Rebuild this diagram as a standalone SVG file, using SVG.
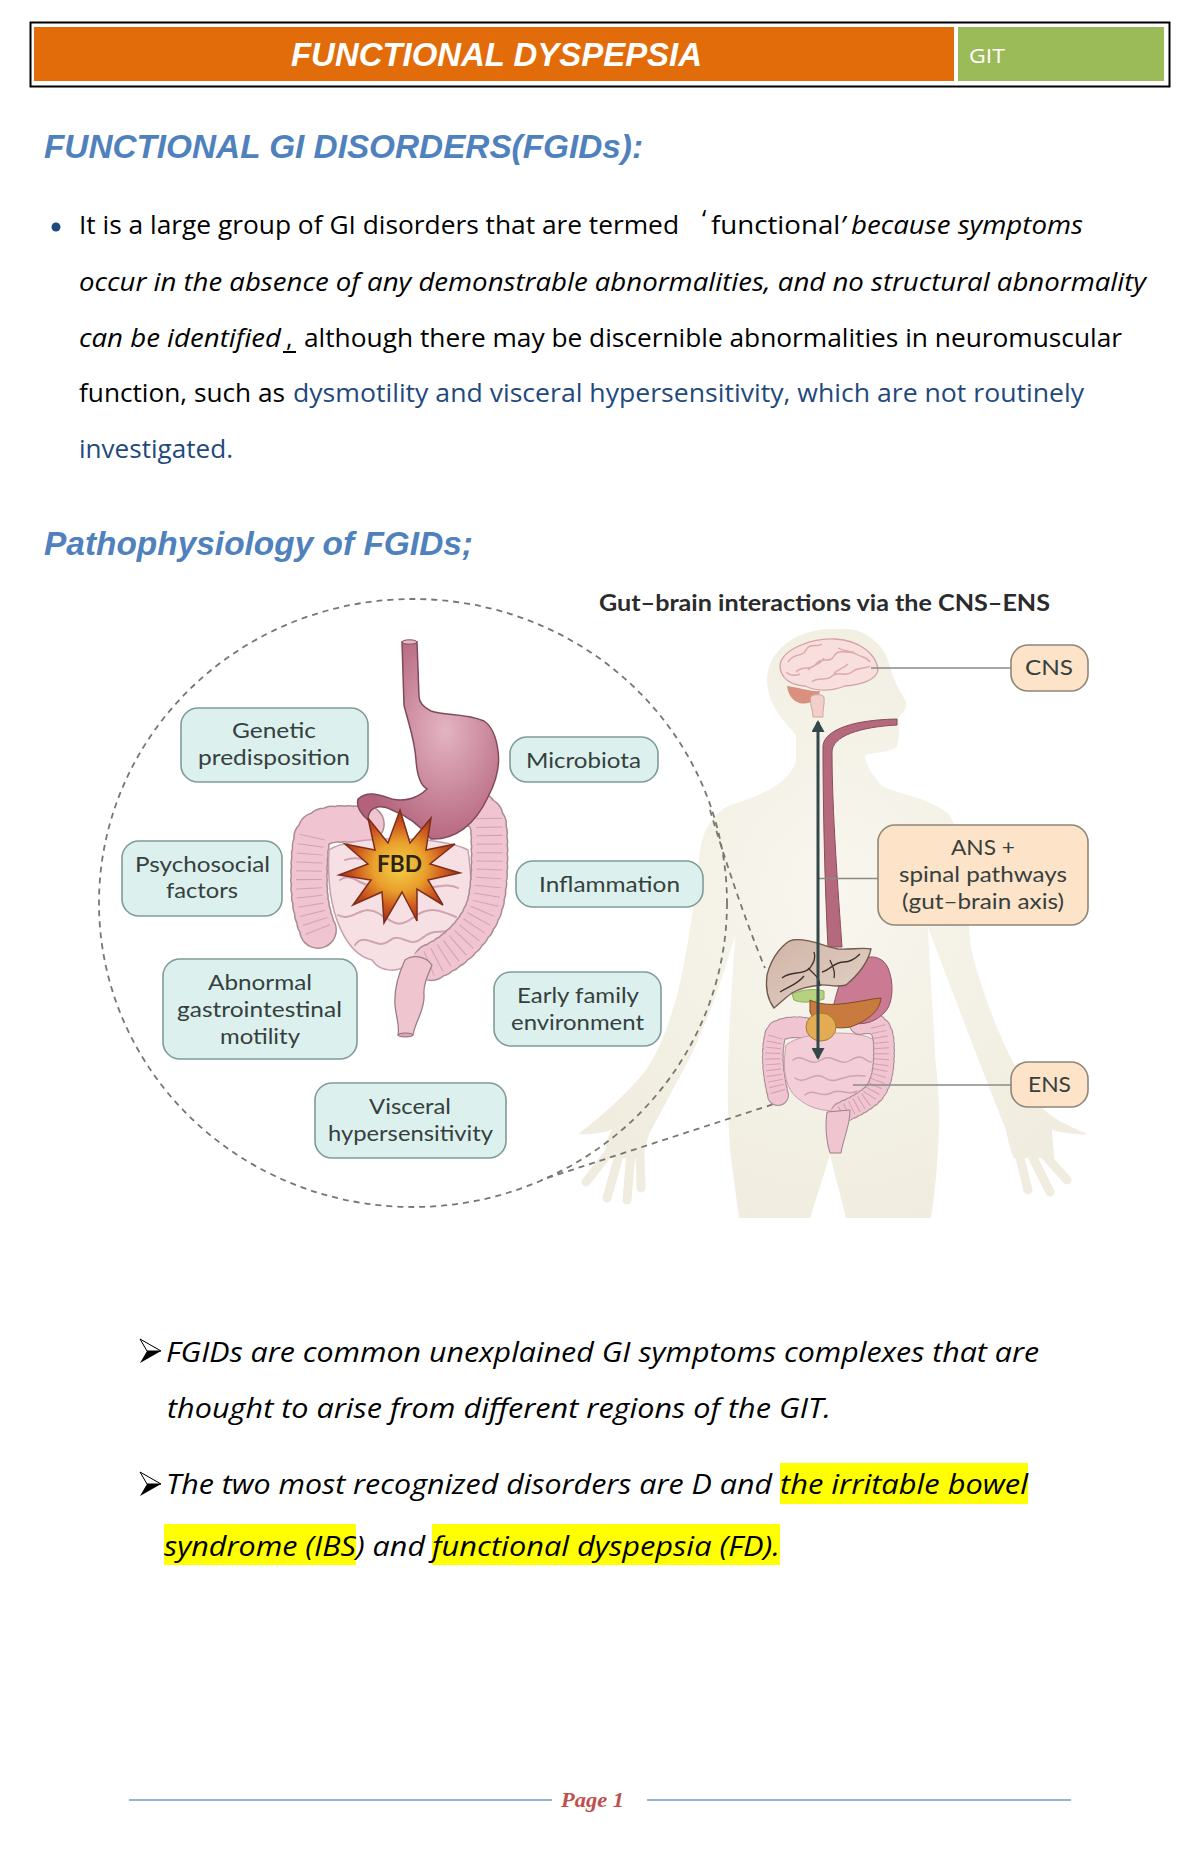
<svg xmlns="http://www.w3.org/2000/svg" width="1200" height="1855" viewBox="0 0 1200 1855">
<defs>
<style>
.h{font-family:"Liberation Sans",Arial,sans-serif;font-weight:700;font-style:italic;font-size:33px;fill:#4f81bd}
.b{font-family:"Open Sans","Noto Sans",sans-serif;font-size:25px;fill:#000}
.big{font-size:27px}
.i{font-style:italic}
.blue{fill:#1f497d}
.lbl{font-family:Lato,"Noto Sans",sans-serif;font-size:22px;fill:#36403e}
.teal{fill:#dcf1ee;stroke:#7f9c99;stroke-width:1.6}
.peach{fill:#fde3c8;stroke:#8f8777;stroke-width:1.6}
.lead{fill:none;stroke:#8b8b85;stroke-width:1.5}
.dash{fill:none;stroke:#77776f;stroke-width:1.8;stroke-dasharray:6 5}
.cl1{fill:none;stroke:#a98c95;stroke-linecap:round;stroke-linejoin:round}
.cl2{fill:none;stroke:#f0c4d0;stroke-linecap:round;stroke-linejoin:round}
.rib{fill:none;stroke:#c58fa0}
.fold{fill:none;stroke:#cfa3b0;stroke-width:2;stroke-linecap:round}
.finger{fill:none;stroke:#f0ecdf;stroke-linecap:round}
.hl{fill:#ffff00}
</style>
<radialGradient id="star" cx="50%" cy="50%" r="52%"><stop offset="0" stop-color="#f3d048"/><stop offset=".42" stop-color="#e9a02c"/><stop offset=".72" stop-color="#cc561e"/><stop offset="1" stop-color="#8f2e18"/></radialGradient>
<radialGradient id="stom" cx="62%" cy="45%" r="60%"><stop offset="0" stop-color="#e3b4c2"/><stop offset="1" stop-color="#b4627c"/></radialGradient>
<radialGradient id="bodyg" cx="50%" cy="45%" r="60%"><stop offset="0" stop-color="#f8f6ee"/><stop offset="1" stop-color="#f0ecdf"/></radialGradient>
<linearGradient id="liver" x1="0" y1="0" x2="1" y2="1"><stop offset="0" stop-color="#cfb4a6"/><stop offset="1" stop-color="#e4d3c8"/></linearGradient>
<marker id="ah" viewBox="0 0 12 13" refX="10" refY="6.500" markerWidth="12" markerHeight="13" orient="auto-start-reverse" markerUnits="userSpaceOnUse"><path d="M0 0L12 6.500L0 13Z" fill="#34474a"/></marker>
</defs>
<rect width="1200" height="1855" fill="#fff"/>

<g id="header">
<rect x="30.500" y="22.500" width="1139" height="64" fill="#fff" stroke="#000" stroke-width="2"/>
<rect x="34" y="27" width="920" height="54" fill="#e36c0a"/>
<rect x="958" y="27" width="206" height="54" fill="#9bbb59"/>
<text x="291" y="66" font-family="Liberation Sans,Arial,sans-serif" font-weight="700" font-style="italic" font-size="33" fill="#fff" textLength="411" lengthAdjust="spacingAndGlyphs">FUNCTIONAL DYSPEPSIA</text>
<text x="969" y="63" font-family="Open Sans,sans-serif" font-size="20" fill="#fff" textLength="36" lengthAdjust="spacingAndGlyphs">GIT</text>
</g>

<g id="intro">
<text class="h" x="44" y="158" textLength="599" lengthAdjust="spacingAndGlyphs">FUNCTIONAL GI DISORDERS(FGIDs):</text>
<circle cx="56" cy="227" r="4.500" fill="#1f497d"/>
<text class="b" x="79" y="234" textLength="600" lengthAdjust="spacingAndGlyphs">It is a large group of GI disorders that are termed</text>
<text class="b" x="702" y="228">‘</text>
<text class="b" x="711" y="234" textLength="134" lengthAdjust="spacingAndGlyphs">functional<tspan class="i">’</tspan></text>
<text class="b i" x="851" y="234" textLength="232" lengthAdjust="spacingAndGlyphs">because symptoms</text>
<text class="b i" x="79" y="291" textLength="1067" lengthAdjust="spacingAndGlyphs">occur in the absence of any demonstrable abnormalities, and no structural abnormality</text>
<text class="b i" x="79" y="347" textLength="202" lengthAdjust="spacingAndGlyphs">can be identified</text>
<text class="b" x="286" y="347">,</text>
<rect x="283" y="351" width="13" height="2" fill="#000"/>
<text class="b" x="304" y="347" textLength="818" lengthAdjust="spacingAndGlyphs">although there may be discernible abnormalities in neuromuscular</text>
<text class="b" x="79" y="402" textLength="206" lengthAdjust="spacingAndGlyphs">function, such as</text>
<text class="b blue" x="293" y="402" textLength="791" lengthAdjust="spacingAndGlyphs">dysmotility and visceral hypersensitivity, which are not routinely</text>
<text class="b blue" x="79" y="458" textLength="154" lengthAdjust="spacingAndGlyphs">investigated.</text>
<text class="h" x="44" y="555" textLength="429" lengthAdjust="spacingAndGlyphs">Pathophysiology of FGIDs;</text>
</g>

<g id="figure">
<path id="body" fill="url(#bodyg)" d="M828 629C795 631 768 650 767 680C767 705 785 722 796 735L796 760C790 785 760 795 728 806C712 815 703 830 700 850C695 900 688 950 678 991C668 1030 655 1060 642 1075C625 1095 600 1118 578 1134C590 1135 600 1133 612 1130C606 1140 604 1150 606 1158L642 1158C645 1150 647 1142 649 1134C660 1115 672 1090 685 1067C705 1030 722 980 735 936C733 980 728 1030 728 1075C727 1105 729 1135 731 1159L739 1218L810 1218L830 1155L846 1218L931 1218C936 1185 939 1150 939 1117C939 1095 937 1075 935 1054C933 1010 930 970 928 928C950 985 980 1065 1006 1130C1008 1140 1010 1150 1014 1158L1054 1158C1054 1148 1052 1138 1052 1130C1064 1133 1076 1135 1087 1134C1068 1125 1048 1118 1036 1100C1010 1065 985 1005 971 949C968 920 968 890 964 865C960 840 955 825 949 814C925 795 895 795 881 785C872 775 866 765 865 755C878 752 890 752 897 747C900 735 899 725 899 717C905 712 908 705 905 700C898 688 893 678 890 667C885 642 862 629 846 629Z"/>
<g id="fingers">
<path class="finger" stroke-width="9" d="M611 1150L586 1182M620 1152L607 1198M631 1152L627 1200M640 1150L641 1188M1018 1150L1028 1190M1030 1152L1050 1192M1042 1152L1067 1180"/>
</g>

<g class="connectors" id="dashed">
<ellipse class="dash" cx="413" cy="903" rx="314" ry="304"/>
<path class="dash" d="M710 810C725 860 745 920 765 968"/>
<path class="dash" d="M783 1101L541 1180"/>
</g>

<text id="fig-title" x="599" y="611" font-family="Lato,Noto Sans,sans-serif" font-weight="700" font-size="22" fill="#2b2b2b" textLength="451" lengthAdjust="spacingAndGlyphs">Gut–brain interactions via the CNS–ENS</text>

<g id="gut-left">
<path class="cl1" stroke-width="38" stroke-dasharray="0 8.500" d="M318 930C312 915 309 900 309 880C309 860 310 845 313 834C325 820 345 825 366 824"/>
<path class="cl2" stroke-width="35" stroke-dasharray="0 8.500" d="M318 930C312 915 309 900 309 880C309 860 310 845 313 834C325 820 345 825 366 824"/>
<path class="cl2" stroke-width="30" d="M318 930C312 915 309 900 309 880C309 860 310 845 313 834C325 820 345 825 366 824"/>
<path class="rib" stroke-width="26" stroke-dasharray="1 7.500" opacity=".65" d="M318 930C312 915 309 900 309 880C309 860 310 845 313 834"/>
<path d="M329 850C350 835 440 835 468 850C475 900 470 945 447 955C438 968 420 966 412 960C400 975 380 972 372 960C350 955 325 920 329 850Z" fill="#f7e0e4" stroke="#c9a0ad" stroke-width="1.500"/>
<path class="fold" d="M340 880c14-10 22 12 36 2s24-8 38 2 30-4 44 4M338 915c14 8 24-12 40-2s20 16 36 4 28-6 42 0M355 945c10-14 22 6 34-4s20 8 32-2 16-6 26-8M345 860c16-6 26 6 38 0"/>
<path class="cl1" stroke-width="38" stroke-dasharray="0 8.500" d="M462 808C478 806 488 815 489 830C490 860 490 885 485 905C475 935 450 955 425 965"/>
<path class="cl2" stroke-width="35" stroke-dasharray="0 8.500" d="M462 808C478 806 488 815 489 830C490 860 490 885 485 905C475 935 450 955 425 965"/>
<path class="cl2" stroke-width="30" d="M462 808C478 806 488 815 489 830C490 860 490 885 485 905C475 935 450 955 425 965"/>
<path class="rib" stroke-width="26" stroke-dasharray="1 7.500" opacity=".65" d="M489 818C490 860 490 885 485 905C475 935 450 955 428 964"/>
<path d="M405 960C398 975 394 990 395 1005C396 1018 400 1025 398 1035L413 1035C415 1022 425 1010 424 995C423 985 428 975 432 965C425 955 412 955 405 960Z" fill="#efc6d0" stroke="#9b7f88" stroke-width="1.300"/>
<ellipse cx="405.500" cy="1035" rx="7.500" ry="2" fill="#d8a9b5" stroke="#8d6a76"/>
<path d="M402 642L404 705C408 722 415 740 416 760C417 775 420 785 427 789C418 798 405 802 392 799C380 795 368 790 358 799C356 807 362 815 368 820C368 808 378 803 392 810C405 815 420 825 431 839C455 840 475 825 488 797C497 780 500 765 498 751C496 735 490 725 484 721C465 713 445 716 431 711C423 707 419 702 419 696L417 642Z" fill="url(#stom)" stroke="#7f4a5a" stroke-width="1.500"/>
<ellipse cx="409.500" cy="642" rx="7.500" ry="2.200" fill="#e3b9c2" stroke="#7f4a5a"/>
<polygon id="burst" points="400,810 410,843 431,818 426,850 455,844 430,864 460,873 428,880 443,905 417,889 417,921 402,892 384,923 382,892 353,905 371,880 339,875 368,864 345,844 375,850 368,818 388,843" fill="url(#star)" stroke="#7d2d1a" stroke-width="1.500"/>
<text x="377" y="872" font-family="Lato,Noto Sans,sans-serif" font-weight="700" font-size="22" fill="#2f2412" textLength="45" lengthAdjust="spacingAndGlyphs">FBD</text>
</g>

<g id="gut-right">
<path d="M823 747C823 733 845 720 897 719L897 725C860 727 832 736 832 752C832 810 838 890 842 947L828 947C825 890 823 810 823 747Z" fill="#b4697c" stroke="#8a4d5c" stroke-width="1"/>
<path class="cl1" stroke-width="22" stroke-dasharray="0 5.500" d="M778 1095C772 1070 771 1050 776 1032C790 1024 805 1028 818 1030"/>
<path class="cl2" stroke-width="20" stroke-dasharray="0 5.500" d="M778 1095C772 1070 771 1050 776 1032C790 1024 805 1028 818 1030"/>
<path class="cl2" stroke-width="17" d="M778 1095C772 1070 771 1050 776 1032C790 1024 805 1028 818 1030"/>
<path class="rib" stroke-width="15" stroke-dasharray="1 4.500" opacity=".7" d="M778 1092C772 1070 771 1050 776 1035"/>
<path d="M786 1045C805 1030 860 1030 874 1040C880 1070 878 1095 860 1104C840 1115 815 1112 800 1100C785 1090 782 1070 786 1045Z" fill="#f3cdd8" stroke="#c9a0ad"/>
<path class="fold" style="stroke-width:1.500" d="M793 1060c10-8 16 8 28 0s18 8 30 0 14 2 20 2M795 1078c10 8 18-8 30 0s18-6 40-2M805 1095c8-8 16 4 26-2s16 4 26-2"/>
<path class="cl1" stroke-width="22" stroke-dasharray="0 5.500" d="M860 1024C880 1020 884 1030 884 1050C884 1075 880 1090 868 1098C855 1108 845 1110 838 1115"/>
<path class="cl2" stroke-width="20" stroke-dasharray="0 5.500" d="M860 1024C880 1020 884 1030 884 1050C884 1075 880 1090 868 1098C855 1108 845 1110 838 1115"/>
<path class="cl2" stroke-width="17" d="M860 1024C880 1020 884 1030 884 1050C884 1075 880 1090 868 1098C855 1108 845 1110 838 1115"/>
<path class="rib" stroke-width="15" stroke-dasharray="1 4.500" opacity=".7" d="M878 1026C884 1050 884 1075 868 1098C855 1108 845 1110 840 1114"/>
<path d="M827 1112C825 1125 826 1140 830 1153L841 1153C843 1140 850 1125 850 1110Z" fill="#efc6d0" stroke="#9b7f88"/>
<path d="M792 994C800 990 815 988 824 991L824 999C812 1003 800 1003 794 1000Z" fill="#b7d27e" stroke="#8fae5c"/>
<path d="M844 975C855 955 880 950 888 968C895 985 892 1005 885 1012C868 1030 845 1025 832 1012C835 1000 838 985 844 975Z" fill="#cb7a93" stroke="#8c4f62"/>
<path d="M767 975C772 955 785 942 792 940C810 938 825 947 838 949C850 950 862 947 871 949C868 962 858 975 846 985C835 988 828 984 821 985C810 986 800 988 792 993C785 998 780 1003 774 1008C768 1000 765 990 767 975Z" fill="url(#liver)" stroke="#715a4d" stroke-width="1.300"/>
<path d="M782 978c10-8 20-2 28-10 4-6 6-10 4-16M780 992c10-6 18-8 24-16M808 968c6 6 12 10 12 18M822 972c8-2 12-10 22-10 6 0 12-4 16-8M830 960c2 6 6 10 4 18" fill="none" stroke="#3e3029" stroke-width="1.300"/>
<path d="M810 1000C830 1010 860 1000 881 998C880 1012 865 1022 850 1027C835 1030 815 1025 810 1012Z" fill="#c97b3f" stroke="#7f4a22"/>
<ellipse cx="821" cy="1027" rx="15" ry="14" fill="#e4ab55" stroke="#a97a2c"/>
<path d="M780 665C782 650 810 638 835 639C860 640 877 655 878 670C877 680 860 685 845 686C830 692 815 691 805 686C790 685 780 678 780 665Z" fill="#f9dede" stroke="#d3a3a5" stroke-width="1.300"/>
<path d="M788 662c6-10 14-4 18-12s12-2 16-6M796 672c8-8 14 0 20-8s14 0 18-8 14-2 20-4M812 682c6-6 14 0 20-6s14 2 20-4 12-2 18-6M786 672c4 4 10 4 14 2M838 648c6 4 12 2 18 6s10 2 14 8M824 658c-4 8-12 6-16 12M848 664c-6 6-10 4-14 10" fill="none" stroke="#dca9ac" stroke-width="1.500"/>
<path d="M787 686C797 687 812 692 820 691C818 702 805 706 797 702C791 699 788 693 787 686Z" fill="#d9907f"/>
<path d="M811 696C816 694 822 694 824 697C825 705 822 712 823 717L813 717C813 710 809 703 811 696Z" fill="#f3cfc9" stroke="#d3a3a5"/>
</g>

<g class="connectors" id="leaders">
<path class="lead" d="M871 668H1011M819 878.500H878M853 1085H1011"/>
<path d="M818 722V1058" fill="none" stroke="#34474a" stroke-width="3" marker-start="url(#ah)" marker-end="url(#ah)"/>
</g>

<g id="genetic"><rect class="teal" x="181" y="708" width="187" height="74" rx="17"/><text class="lbl" x="232" y="738" textLength="84" lengthAdjust="spacingAndGlyphs">Genetic</text><text class="lbl" x="198" y="765" textLength="152" lengthAdjust="spacingAndGlyphs">predisposition</text></g>
<g id="microbiota"><rect class="teal" x="510" y="737" width="148" height="45" rx="17"/><text class="lbl" x="526" y="768" textLength="115" lengthAdjust="spacingAndGlyphs">Microbiota</text></g>
<g id="psychosocial"><rect class="teal" x="122" y="841" width="160" height="75" rx="17"/><text class="lbl" x="135" y="872" textLength="135" lengthAdjust="spacingAndGlyphs">Psychosocial</text><text class="lbl" x="166" y="898" textLength="72" lengthAdjust="spacingAndGlyphs">factors</text></g>
<g id="inflammation"><rect class="teal" x="516" y="861" width="187" height="46" rx="17"/><text class="lbl" x="539" y="892" textLength="141" lengthAdjust="spacingAndGlyphs">Inflammation</text></g>
<g id="abnormal"><rect class="teal" x="163" y="959" width="194" height="100" rx="17"/><text class="lbl" x="208" y="990" textLength="104" lengthAdjust="spacingAndGlyphs">Abnormal</text><text class="lbl" x="177" y="1017" textLength="165" lengthAdjust="spacingAndGlyphs">gastrointestinal</text><text class="lbl" x="220" y="1044" textLength="80" lengthAdjust="spacingAndGlyphs">motility</text></g>
<g id="early"><rect class="teal" x="494" y="972" width="167" height="74" rx="17"/><text class="lbl" x="517" y="1003" textLength="122" lengthAdjust="spacingAndGlyphs">Early family</text><text class="lbl" x="511" y="1030" textLength="133" lengthAdjust="spacingAndGlyphs">environment</text></g>
<g id="visceral"><rect class="teal" x="315" y="1083" width="191" height="75" rx="17"/><text class="lbl" x="369" y="1114" textLength="82" lengthAdjust="spacingAndGlyphs">Visceral</text><text class="lbl" x="328" y="1141" textLength="165" lengthAdjust="spacingAndGlyphs">hypersensitivity</text></g>
<g id="cns"><rect class="peach" x="1011" y="645" width="77" height="46" rx="17"/><text class="lbl" x="1025" y="675" textLength="48" lengthAdjust="spacingAndGlyphs">CNS</text></g>
<g id="ans"><rect class="peach" x="878" y="825" width="210" height="100" rx="17"/><text class="lbl" x="951" y="855" textLength="64" lengthAdjust="spacingAndGlyphs">ANS +</text><text class="lbl" x="899" y="882" textLength="168" lengthAdjust="spacingAndGlyphs">spinal pathways</text><text class="lbl" x="902" y="909" textLength="162" lengthAdjust="spacingAndGlyphs">(gut–brain axis)</text></g>
<g id="ens"><rect class="peach" x="1011" y="1062" width="77" height="45" rx="17"/><text class="lbl" x="1028" y="1092" textLength="43" lengthAdjust="spacingAndGlyphs">ENS</text></g>
</g>

<g id="bullets">
<rect class="hl" x="780" y="1463" width="248" height="41"/>
<rect class="hl" x="164" y="1524" width="192" height="41"/>
<rect class="hl" x="432" y="1524" width="348" height="41"/>
<path d="M140 1339L161 1351L140 1363L147 1351Z" fill="#000"/><path d="M140 1339L161 1351L147 1351Z" fill="#fff" stroke="#000" stroke-width="1"/>
<text class="b big i" x="166" y="1362" textLength="873" lengthAdjust="spacingAndGlyphs">FGIDs are common unexplained GI symptoms complexes that are</text>
<text class="b big i" x="167" y="1418" textLength="664" lengthAdjust="spacingAndGlyphs">thought to arise from different regions of the GIT.</text>
<path d="M140 1472L161 1484L140 1496L147 1484Z" fill="#000"/><path d="M140 1472L161 1484L147 1484Z" fill="#fff" stroke="#000" stroke-width="1"/>
<text class="b big i" x="166" y="1494" textLength="606" lengthAdjust="spacingAndGlyphs">The two most recognized disorders are D and</text>
<text class="b big i" x="780" y="1494" textLength="248" lengthAdjust="spacingAndGlyphs">the irritable bowel</text>
<text class="b big i" x="164" y="1556" textLength="192" lengthAdjust="spacingAndGlyphs">syndrome (IBS</text>
<text class="b big i" x="356" y="1556" textLength="69" lengthAdjust="spacingAndGlyphs">) and</text>
<text class="b big i" x="432" y="1556" textLength="348" lengthAdjust="spacingAndGlyphs">functional dyspepsia (FD).</text>
</g>

<g id="footer">
<path d="M129 1800H552M647 1800H1071" stroke="#95b3d7" stroke-width="2" fill="none"/>
<text x="561" y="1807" font-family="Liberation Serif,serif" font-weight="700" font-style="italic" font-size="21" fill="#c0504d" textLength="63" lengthAdjust="spacingAndGlyphs">Page 1</text>
</g>
</svg>
